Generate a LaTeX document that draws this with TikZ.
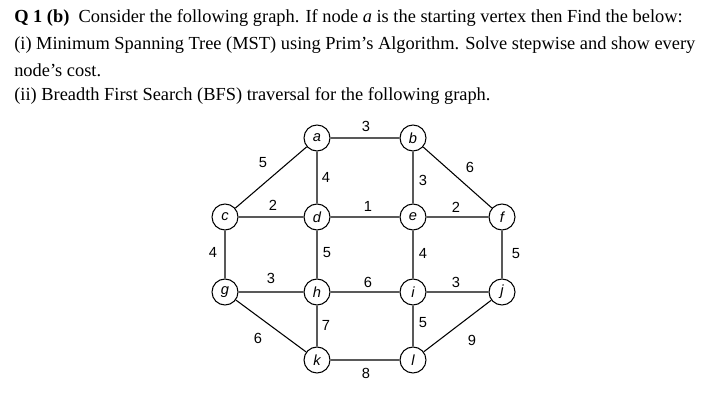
\documentclass[tikz,border=0pt]{standalone}
\usepackage{fontspec}
\setmainfont{Liberation Serif}
\newfontfamily\gfont{Liberation Sans}
\begin{document}
\begin{tikzpicture}[x=0.75pt,y=-0.75pt,
  vtx/.style={circle,draw,line width=0.8pt,minimum size=19.5pt,inner sep=0pt,font=\gfont\itshape\fontsize{11}{11}\selectfont},
  wt/.style={font=\gfont\fontsize{11}{11}\selectfont,inner sep=0pt},
  txt/.style={anchor=west,inner sep=0pt,font=\fontsize{13.8}{15}\selectfont},
  edge/.style={line width=0.8pt}]
\useasboundingbox (0,0) rectangle (710,413);
\node[txt] (l1) at (14,18) {\textbf{Q 1 (b)} \ Consider the following graph. If node \textit{a} is the starting vertex then Find the below:};
\node[txt] (l2) at (14,45) {(i) Minimum Spanning Tree (MST) using Prim's Algorithm. Solve stepwise and show every};
\node[txt] (l3) at (14,70) {node's cost.};
\node[txt] (l4) at (14,96) {(ii) Breadth First Search (BFS) traversal for the following graph.};
\node[vtx] (a) at (317,138) {a};
\node[vtx] (b) at (413,138) {b};
\node[vtx] (c) at (225,217) {c};
\node[vtx] (d) at (317,217) {d};
\node[vtx] (e) at (413,217) {e};
\node[vtx] (f) at (502,217) {f};
\node[vtx] (g) at (225,292) {g};
\node[vtx] (h) at (317,292) {h};
\node[vtx] (i) at (413,292) {i};
\node[vtx] (j) at (502,292) {j};
\node[vtx] (k) at (317,360) {k};
\node[vtx] (l) at (413,360) {l};
\draw[edge] (a)--(b) (a)--(c) (a)--(d) (b)--(e) (b)--(f) (c)--(d) (d)--(e) (e)--(f)
 (c)--(g) (d)--(h) (e)--(i) (f)--(j) (g)--(h) (h)--(i) (i)--(j) (g)--(k) (h)--(k) (i)--(l) (j)--(l) (k)--(l);
\node[wt] (w1) at (366,126) {3};
\node[wt] (w2) at (263,163) {5};
\node[wt] (w3) at (326,177) {4};
\node[wt] (w4) at (423,180) {3};
\node[wt] (w5) at (470,167) {6};
\node[wt] (w6) at (273,205) {2};
\node[wt] (w7) at (368,206) {1};
\node[wt] (w8) at (456,207) {2};
\node[wt] (w9) at (213,252) {4};
\node[wt] (w10) at (327,253) {5};
\node[wt] (w11) at (423,253) {4};
\node[wt] (w12) at (516,254) {5};
\node[wt] (w13) at (271,278) {3};
\node[wt] (w14) at (368,282) {6};
\node[wt] (w15) at (456,282) {3};
\node[wt] (w16) at (258,338) {6};
\node[wt] (w17) at (326,325) {7};
\node[wt] (w18) at (423,323) {5};
\node[wt] (w19) at (472,340) {9};
\node[wt] (w20) at (366,373) {8};
\end{tikzpicture}
\end{document}
